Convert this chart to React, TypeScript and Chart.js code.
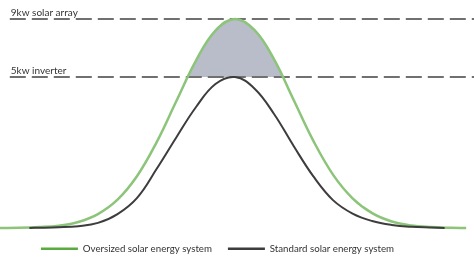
import React, { useEffect, useRef } from 'react';
import { Chart, registerables } from 'chart.js';

Chart.register(...registerables);

// Hours of the day (x) and output (y)
const greenHours = [0, 1, 2, 3, 4, 5, 6, 7, 8, 9, 10, 11, 12, 13, 14, 15, 16, 17, 18, 19, 20, 21, 22, 23, 23.8];
const greenValues = [0.0, 0.01, 0.04, 0.1, 0.26, 0.6, 1.22, 2.24, 3.7, 5.46, 7.2, 8.5, 9, 8.52, 7.25, 5.5, 3.75, 2.3, 1.28, 0.64, 0.28, 0.11, 0.04, 0.01, 0.0];

const blackHours = [1.5, 2, 3, 4, 5, 6, 7, 8, 9, 10, 11, 12, 13, 14, 15, 16, 17, 18, 19, 20, 21, 22, 22.7];
const blackValues = [0.005, 0.01, 0.03, 0.08, 0.22, 0.6, 1.3, 2.55, 3.9, 5.2, 6.2, 6.5, 6.0, 4.9, 3.52, 2.22, 1.2, 0.62, 0.3, 0.13, 0.05, 0.02, 0.005];

const seriesNames = ['Oversized solar energy system', 'Standard solar energy system'];

const refLevels = [9, 6.5];
const refLabels = ['9kw solar array', '5kw inverter'];
const refStart = 0.5;
const refEnd = 24.2;

const GREEN = '#8cc47a';
const LEGEND_GREEN = '#5aab3f';
const BLACK = '#3d3d3d';
const FILL = '#b9bcc9';
const DASH = '#707070';
const FONT = 'Lato';

const refTextPlugin = {
  id: 'refText',
  afterDatasetsDraw(chart: any) {
    const { ctx } = chart;
    const x = chart.scales.x;
    const y = chart.scales.y;
    ctx.save();
    ctx.font = `10px ${FONT}`;
    ctx.fillStyle = '#333333';
    ctx.textBaseline = 'alphabetic';
    ctx.textAlign = 'left';
    refLabels.forEach((t, i) => {
      ctx.fillText(t, x.getPixelForValue(refStart) + 1, y.getPixelForValue(refLevels[i]) - 3.5);
    });
    ctx.restore();
  },
};

// the legend in the picture sits a little left of centre
const legendShiftPlugin = {
  id: 'legendShift',
  afterLayout(chart: any) {
    const l = chart.legend;
    if (l) {
      l.left -= 19.5;
      l.right -= 19.5;
    }
  },
};

export default function App() {
  const ref = useRef<HTMLCanvasElement>(null);

  useEffect(() => {
    if (!ref.current) return;
    const chart = new Chart(ref.current, {
      type: 'line',
      data: {
        datasets: [
          {
            label: seriesNames[0],
            data: greenHours.map((h, i) => ({ x: h, y: greenValues[i] })),
            borderColor: GREEN,
            borderWidth: 2.5,
            pointRadius: 0,
            tension: 0.4,
            fill: { target: { value: refLevels[1] }, above: FILL, below: 'rgba(0,0,0,0)' },
            clip: false,
            order: 2,
          } as any,
          {
            label: seriesNames[1],
            data: blackHours.map((h, i) => ({ x: h, y: blackValues[i] })),
            borderColor: BLACK,
            borderWidth: 2,
            pointRadius: 0,
            tension: 0.4,
            fill: false,
            clip: false,
            order: 1,
          },
          ...refLevels.map((v) => ({
            label: 'ref' + v,
            data: [
              { x: refStart, y: v },
              { x: refEnd, y: v },
            ],
            borderColor: DASH,
            borderWidth: 2,
            borderDash: [16, 6],
            pointRadius: 0,
            fill: false,
            clip: false,
            order: 3,
          })),
        ],
      },
      options: {
        animation: false,
        responsive: false,
        maintainAspectRatio: false,
        devicePixelRatio: 1,
        layout: { padding: { left: 0, right: 0, top: 19, bottom: 0 } },
        scales: {
          x: { type: 'linear', min: 0, max: 24.2, display: false },
          y: { type: 'linear', min: 0, max: 9, display: false },
        },
        plugins: {
          filler: { drawTime: 'beforeDatasetsDraw' },
          tooltip: { enabled: false },
          legend: {
            position: 'bottom',
            align: 'center',
            maxHeight: 30,
            labels: {
              usePointStyle: true,
              pointStyle: 'line',
              pointStyleWidth: 37,
              padding: 16,
              color: '#333333',
              font: { family: FONT, size: 9.7 },
              filter: (item: any) => item.datasetIndex < 2,
              sort: (a: any, b: any) => a.datasetIndex - b.datasetIndex,
              generateLabels: (c: any) => {
                const items = (Chart.defaults.plugins.legend.labels as any).generateLabels(c);
                items.forEach((it: any) => {
                  if (it.datasetIndex === 0) it.strokeStyle = LEGEND_GREEN;
                  it.lineWidth = 2.5;
                });
                return items;
              },
            },
          },
        },
      } as any,
      plugins: [refTextPlugin, legendShiftPlugin],
    });
    return () => chart.destroy();
  }, []);

  return (
    <div style={{ position: 'absolute', left: 0, top: 0, width: 474, height: 258 }}>
      <canvas ref={ref} width={474} height={258} style={{ width: 474, height: 258 }} />
    </div>
  );
}
